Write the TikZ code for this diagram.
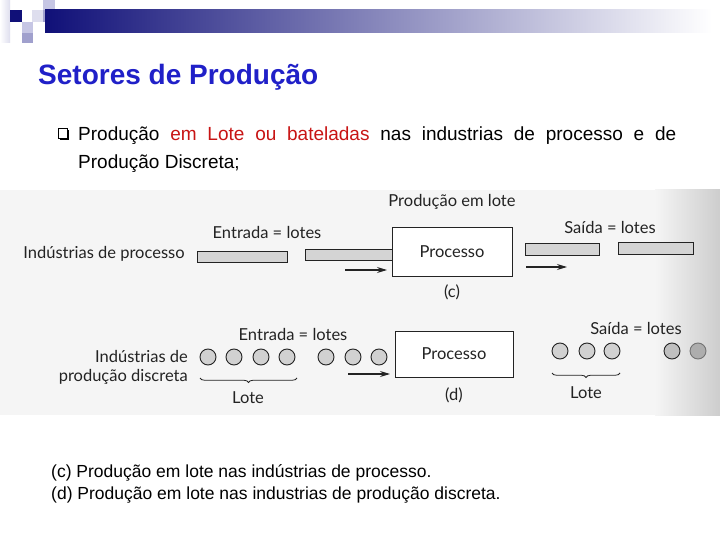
\documentclass[tikz,border=0pt]{standalone}
\usepackage{fontspec}
\setmainfont{Liberation Sans}
\newfontfamily\scanfont{Lato}
\usetikzlibrary{arrows.meta,decorations.pathreplacing}
\definecolor{navy}{RGB}{16,16,120}
\definecolor{barmid}{RGB}{172,172,198}
\definecolor{titleblue}{RGB}{32,32,200}
\definecolor{ink}{RGB}{35,35,35}
\definecolor{scanbg}{RGB}{245,245,245}
\definecolor{scanedge}{RGB}{205,205,205}
\definecolor{lav1}{RGB}{222,222,238}
\definecolor{lav2}{RGB}{198,198,228}
\definecolor{lav3}{RGB}{160,160,205}
\definecolor{redtxt}{RGB}{200,20,20}
\tikzset{
  scantxt/.style={font=\scanfont\fontsize{16.5}{18}\selectfont, text=ink, inner sep=0pt},
  lotbar/.style={draw=ink, line width=1pt, fill=black!17},
  procbox/.style={draw=ink, line width=1pt, fill=white},
  unit/.style={circle, draw=ink, line width=0.9pt, fill=black!18, minimum size=16pt, inner sep=0pt},
  flow/.style={draw=ink, line width=1.1pt, -{Stealth[length=10pt,width=6pt]}},
  lotbrace/.style={draw=ink, line width=0.8pt, decorate, decoration={brace, mirror, amplitude=4.5pt}},
  slidetxt/.style={inner sep=0pt, anchor=base west}
}
\begin{document}
\begin{tikzpicture}[x=1pt,y=-1pt]
\useasboundingbox (0,0) rectangle (720,540);
\fill[white] (0,0) rectangle (720,540);
% header decoration
\shade[left color=white, right color=lav1] (0,0) rectangle (10,43);
\fill[navy] (10,10) rectangle (22,22);
\fill[lav1] (32,10) rectangle (43,22);
\fill[lav2] (43,0) rectangle (55,10);
\fill[lav3] (43,10) rectangle (55,22);
\fill[lav2] (22,22) rectangle (33,33);
\fill[lav3] (22,33) rectangle (33,43);
\shade[left color=navy, middle color=barmid, right color=white] (45,10) rectangle (712,33);
% title
\node[slidetxt, font=\fontsize{28}{32}\selectfont\bfseries, text=titleblue] (title) at (38,85) {Setores de Produção};
% bullet
\draw[line width=0.9pt] (58,128) rectangle (67,138);
\draw[line width=1.6pt] (60,139.5) -- (68.5,139.5) -- (68.5,130);
\node[slidetxt, font=\fontsize{19}{22}\selectfont] (l1) at (78,141) {\makebox[598pt][s]{Produção {\color{redtxt}em Lote ou bateladas} nas industrias de processo e de}};
\node[slidetxt, font=\fontsize{19}{22}\selectfont] (l2) at (78,169) {Produção Discreta;};
% scanned area
\fill[scanbg] (0,190) rectangle (720,415);
\shade[left color=scanbg, right color=scanedge] (655,190) rectangle (720,415);
% (c) row
\node[scantxt] (pl) at (452,202) {Produção em lote};
\node[scantxt] (ent1) at (267,232) {Entrada = lotes};
\node[scantxt] (ip) at (104,254) {Indústrias de processo};
\draw[lotbar] (197,251) rectangle (287,262);
\node[procbox, minimum width=120pt, minimum height=48pt, inner sep=0pt] (boxc) at (452,252) {};
\draw[lotbar] (305,249) rectangle (392,260);
\node[scantxt] (pc) at (boxc.center) {Processo};
\coordinate (a1s) at (345,270);
\coordinate (a1e) at (387,270);
\draw[flow] (a1s) -- (a1e);
\node[scantxt] (lc) at (452,292) {(c)};
\node[scantxt] (sai1) at (610,227) {Saída = lotes};
\draw[lotbar] (525,243) rectangle (599,255);
\draw[lotbar] (618,242) rectangle (693,254);
\coordinate (a2s) at (526,267);
\coordinate (a2e) at (567,267);
\draw[flow] (a2s) -- (a2e);
% (d) row
\node[scantxt] (ent2) at (293,334) {Entrada = lotes};
\node[scantxt, align=right, anchor=east] (ipd) at (188,367) {Indústrias de\\[1pt]produção discreta};
\node[unit] (u1) at (208,357) {};
\node[unit] (u2) at (234,357) {};
\node[unit] (u3) at (261,357) {};
\node[unit] (u4) at (287,357) {};
\node[unit] (u5) at (326,357) {};
\node[unit] (u6) at (353,357) {};
\node[unit] (u7) at (379,357) {};
\draw[lotbrace] (200,378) -- (297,378);
\node[scantxt] (lote1) at (248,398) {Lote};
\node[procbox, minimum width=118pt, minimum height=46pt, inner sep=0pt] (boxd) at (454,354) {};
\node[scantxt] (pd) at (boxd.center) {Processo};
\coordinate (a3s) at (348,374);
\coordinate (a3e) at (390,374);
\draw[flow] (a3s) -- (a3e);
\node[scantxt] (ld) at (454,395) {(d)};
\node[scantxt] (sai2) at (636,328) {Saída = lotes};
\node[unit] (v1) at (560,351) {};
\node[unit] (v2) at (587,351) {};
\node[unit] (v3) at (612,351) {};
\node[unit, fill=black!25] (v4) at (672,351) {};
\node[unit, fill=black!32, draw=black!55] (v5) at (698,351) {};
\draw[lotbrace] (552,373) -- (620,373);
\node[scantxt] (lote2) at (586,393) {Lote};
% captions
\node[slidetxt, font=\fontsize{17.5}{20}\selectfont] (cap1) at (51,477) {(c) Produção em lote nas indústrias de processo.};
\node[slidetxt, font=\fontsize{17.5}{20}\selectfont] (cap2) at (51,499) {(d) Produção em lote nas industrias de produção discreta.};
\end{tikzpicture}
\end{document}
